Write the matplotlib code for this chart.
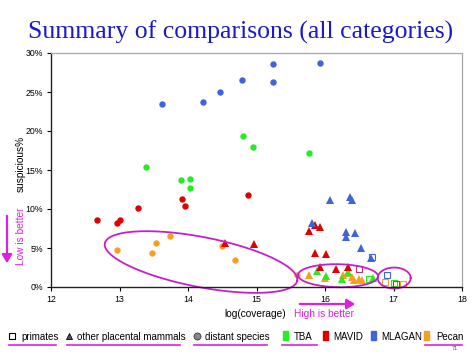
import numpy as np
import matplotlib
matplotlib.use("Agg")
import matplotlib.pyplot as plt
from matplotlib.lines import Line2D
from matplotlib.patches import Rectangle, FancyArrowPatch

# ---------------- data (log coverage, suspicious %) ----------------
# distant species (circles)
tba_circ_x = [13.38, 14.80, 14.95, 13.90, 14.03, 14.03, 15.77]
tba_circ_y = [15.4, 19.3, 17.9, 13.7, 13.8, 12.7, 17.2]
mavid_circ_x = [12.67, 12.97, 13.01, 13.27, 13.91, 13.95, 14.88]
mavid_circ_y = [8.6, 8.2, 8.6, 10.1, 11.3, 10.4, 11.8]
mlagan_circ_x = [13.62, 14.22, 14.46, 14.79, 15.24, 15.24, 15.93]
mlagan_circ_y = [23.5, 23.7, 25.0, 26.5, 28.6, 26.3, 28.7]
pecan_circ_x = [12.96, 13.48, 13.54, 13.74, 14.49, 14.69, 15.59]
pecan_circ_y = [4.8, 4.4, 5.7, 6.6, 5.3, 3.5, 1.6]

# other placental mammals (triangles)
mavid_tri_x = [14.54, 14.96, 15.77, 15.86, 15.92, 15.86, 16.02, 15.92, 16.16, 16.34]
mavid_tri_y = [5.7, 5.55, 7.2, 7.9, 7.7, 4.4, 4.2, 2.6, 2.3, 2.6]
mlagan_tri_x = [16.07, 16.36, 16.40, 15.81, 16.31, 16.30, 16.44, 16.52, 16.67]
mlagan_tri_y = [11.2, 11.5, 11.2, 8.2, 7.1, 6.45, 6.9, 5.0, 3.7]
tba_tri_x = [15.88, 16.01, 16.34, 16.25, 16.70]
tba_tri_y = [2.1, 1.45, 1.95, 1.0, 1.2]
pecan_tri_x = [15.76, 16.00, 16.27, 16.34, 16.39, 16.43, 16.50, 16.54]
pecan_tri_y = [1.55, 1.1, 1.55, 1.75, 1.3, 0.9, 1.0, 0.9]

# primates (open squares)
mavid_sq_x = [16.49, 17.03]
mavid_sq_y = [2.3, 0.4]
mlagan_sq_x = [16.68, 16.91]
mlagan_sq_y = [3.8, 1.5]
tba_sq_x = [16.64, 17.01]
tba_sq_y = [1.0, 0.5]
pecan_sq_x = [16.88, 17.00, 17.14]
pecan_sq_y = [0.7, 0.55, 0.35]

x_ticks = [12, 13, 14, 15, 16, 17, 18]
y_ticks = [0, 5, 10, 15, 20, 25, 30]
y_tick_labels = ["0%", "5%", "10%", "15%", "20%", "25%", "30%"]

legend_shapes = ["primates", "other placental mammals", "distant species"]
legend_methods = ["TBA", "MAVID", "MLAGAN", "Pecan"]

# ---------------- styling ----------------
C_TBA = "#22ee22"
C_MAVID = "#e00000"
C_MLAGAN = "#3f63d8"
C_PECAN = "#f5a020"
C_ELL = "#c81ec8"
C_MAG = "#e020e0"
SANS = ["Liberation Sans", "DejaVu Sans"]

W, H = 474, 355
fig = plt.figure(figsize=(W / 100, H / 100), dpi=100)
L, R, T, B = 51, 462, 53, 287
ax = fig.add_axes([L / W, 1 - B / H, (R - L) / W, (B - T) / H])


def fx(x):
    return x / W


def fy(y):
    return 1 - y / H


ax.set_xlim(12, 18)
ax.set_ylim(0, 30)
ax.set_xticks(x_ticks)
ax.set_xticklabels([str(t) for t in x_ticks], fontsize=6.3, family=SANS)
ax.set_yticks(y_ticks)
ax.set_yticklabels(y_tick_labels, fontsize=6.3, family=SANS)
ax.tick_params(direction="out", length=3, width=0.8, pad=3)
for s in ["top", "right"]:
    ax.spines[s].set_color("#a8a8a8")
    ax.spines[s].set_linewidth(0.9)
for s in ["left", "bottom"]:
    ax.spines[s].set_color("#222222")
    ax.spines[s].set_linewidth(1.0)

ms_c, ms_t, ms_s = 4.6, 5.6, 5.0
ax.plot(mlagan_circ_x, mlagan_circ_y, "o", color=C_MLAGAN, ms=ms_c, mew=0)
ax.plot(tba_circ_x, tba_circ_y, "o", color=C_TBA, ms=ms_c, mew=0)
ax.plot(mavid_circ_x, mavid_circ_y, "o", color=C_MAVID, ms=ms_c, mew=0)
ax.plot(pecan_circ_x, pecan_circ_y, "o", color=C_PECAN, ms=ms_c, mew=0)

ax.plot(pecan_tri_x, pecan_tri_y, "^", color=C_PECAN, ms=ms_t, mew=0)
ax.plot(tba_tri_x, tba_tri_y, "^", color=C_TBA, ms=ms_t, mew=0)
ax.plot(mavid_tri_x, mavid_tri_y, "^", color=C_MAVID, ms=ms_t, mew=0)
ax.plot(mlagan_tri_x, mlagan_tri_y, "^", color=C_MLAGAN, ms=ms_t, mew=0)

for xs, ys, c in [(pecan_sq_x, pecan_sq_y, C_PECAN), (tba_sq_x, tba_sq_y, C_TBA),
                  (mavid_sq_x, mavid_sq_y, "#c0306a"), (mlagan_sq_x, mlagan_sq_y, C_MLAGAN)]:
    ax.plot(xs, ys, "s", mfc="none", mec=c, ms=ms_s, mew=0.8)

# ---------------- ellipses (annotation) ----------------
ppx = (R - L) / 6.0   # pixels per x unit
ppy = (B - T) / 30.0  # pixels per y unit


def ellipse(cx, cy, a, b, ang):
    t = np.linspace(0, 2 * np.pi, 200)
    th = np.deg2rad(ang)
    dx = a * np.cos(t) * np.cos(th) - b * np.sin(t) * np.sin(th)
    dy = a * np.cos(t) * np.sin(th) + b * np.sin(t) * np.cos(th)
    ax.plot(cx + dx / ppx, cy + dy / ppy, color=C_ELL, lw=1.3, clip_on=False)


ellipse(14.19, 3.2, 98, 25, -11)
ellipse(16.19, 1.45, 40, 11.5, -1)
ellipse(17.01, 1.15, 16.5, 10.5, 0)

# ---------------- texts ----------------
fig.text(fx(241), fy(32), "Summary of comparisons (all categories)", ha="center", va="center",
         fontsize=18.5, family=["Liberation Serif", "DejaVu Serif"], color="#1a1ac8")
fig.text(fx(21), fy(164), "suspicious%", rotation=90, ha="center", va="center",
         fontsize=7.3, family=SANS, color="black")
fig.text(fx(21), fy(236), "Low is better", rotation=90, ha="center", va="center",
         fontsize=7.3, family=SANS, color=C_MAG)
fig.add_artist(FancyArrowPatch((fx(7), fy(213)), (fx(7), fy(266)), transform=fig.transFigure,
                               arrowstyle="-|>,head_length=5,head_width=3", color=C_MAG, lw=1.6))
fig.text(fx(255), fy(314), "log(coverage)", ha="center", va="center", fontsize=7.3, family=SANS)
fig.text(fx(324), fy(314), "High is better", ha="center", va="center", fontsize=7.3,
         family=SANS, color=C_MAG)
fig.add_artist(FancyArrowPatch((fx(297), fy(304)), (fx(358), fy(304)), transform=fig.transFigure,
                               arrowstyle="-|>,head_length=5,head_width=3", color=C_MAG, lw=1.6))

# ---------------- custom legend row ----------------
ly = 337
shape_markers = ["s", "^", "o"]
shape_pos = [(12, 21, 9, 56), (69, 77, 67, 180), (197, 205, 194, 267)]
for lab, mk, (mx, tx, u0, u1) in zip(legend_shapes, shape_markers, shape_pos):
    if mk == "s":
        fig.add_artist(Line2D([fx(mx)], [fy(ly - 1)], marker="s", mfc="none", mec="black",
                              ms=5, mew=0.8, transform=fig.transFigure))
    elif mk == "^":
        fig.add_artist(Line2D([fx(mx)], [fy(ly - 1)], marker="^", mfc="#555555", mec="black",
                              ms=5, mew=0.6, transform=fig.transFigure))
    else:
        fig.add_artist(Line2D([fx(mx)], [fy(ly - 1)], marker="o", mfc="#888888", mec="#333333",
                              ms=5, mew=0.6, transform=fig.transFigure))
    fig.text(fx(tx), fy(ly), lab, ha="left", va="center", fontsize=7, family=SANS)
    fig.add_artist(Line2D([fx(u0), fx(u1)], [fy(345), fy(345)], color=C_MAG, lw=1.2,
                          transform=fig.transFigure))

method_colors = [C_TBA, C_MAVID, C_MLAGAN, C_PECAN]
method_pos = [(285, 294), (325, 333), (373, 381), (426, 436)]
for lab, c, (bx, tx) in zip(legend_methods, method_colors, method_pos):
    fig.add_artist(Rectangle((fx(bx - 2.5), fy(ly + 3)), 5 / W, 9 / H, color=c,
                             transform=fig.transFigure))
    fig.text(fx(tx), fy(ly), lab, ha="left", va="center", fontsize=7, family=SANS)
for u0, u1 in [(282, 317), (425, 462)]:
    fig.add_artist(Line2D([fx(u0), fx(u1)], [fy(345), fy(345)], color=C_MAG, lw=1.2,
                          transform=fig.transFigure))
fig.text(fx(455), fy(349), "71", ha="center", va="center", fontsize=4, family=SANS, color="#555555")

fig.savefig("out.png", dpi=100)
